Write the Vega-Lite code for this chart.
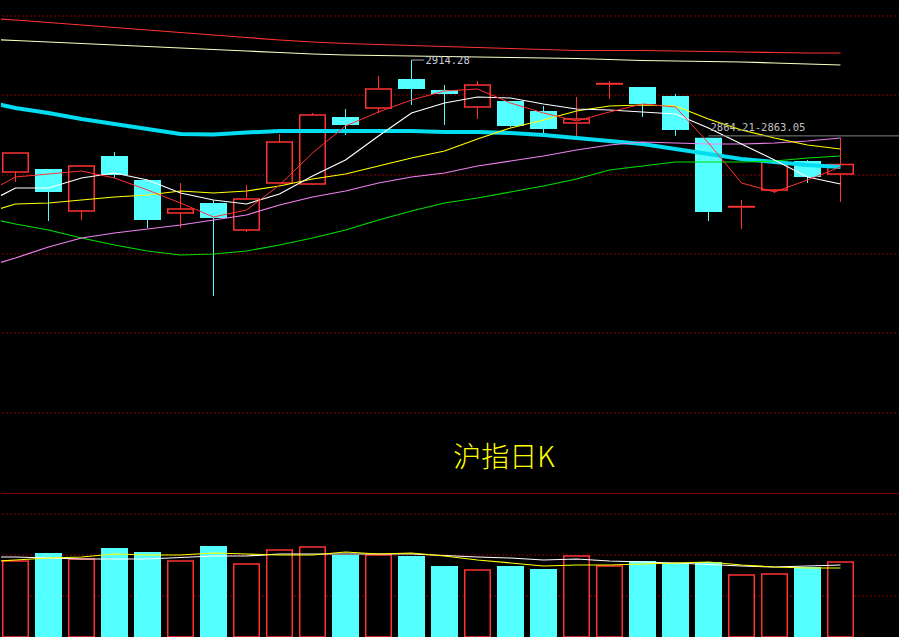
{
  "$schema": "https://vega.github.io/schema/vega-lite/v6.json",
  "background": "#000000",
  "padding": 0,
  "spacing": 0,
  "config": {"view": {"stroke": null}, "axis": {"disable": true}, "scale": {"continuousPadding": 0}},
  "datasets": {
    "candles": [
      {"day": 1, "open": 2840.38, "high": 2852.92, "low": 2833.78, "close": 2852.92, "vol": 1854},
      {"day": 2, "open": 2842.36, "high": 2842.36, "low": 2808.04, "close": 2827.18, "vol": 2049},
      {"day": 3, "open": 2814.64, "high": 2844.34, "low": 2808.70, "close": 2844.34, "vol": 1902},
      {"day": 4, "open": 2850.94, "high": 2853.58, "low": 2836.42, "close": 2838.40, "vol": 2171},
      {"day": 5, "open": 2835.10, "high": 2835.10, "low": 2803.42, "close": 2808.70, "vol": 2073},
      {"day": 6, "open": 2813.32, "high": 2833.12, "low": 2803.42, "close": 2815.96, "vol": 1854},
      {"day": 7, "open": 2819.92, "high": 2821.90, "low": 2758.54, "close": 2810.02, "vol": 2220},
      {"day": 8, "open": 2802.10, "high": 2831.80, "low": 2800.78, "close": 2822.56, "vol": 1780},
      {"day": 9, "open": 2833.12, "high": 2865.46, "low": 2833.12, "close": 2860.18, "vol": 2122},
      {"day": 10, "open": 2832.46, "high": 2879.32, "low": 2831.80, "close": 2878.00, "vol": 2195},
      {"day": 11, "open": 2876.68, "high": 2881.96, "low": 2864.80, "close": 2871.40, "vol": 2000},
      {"day": 12, "open": 2882.62, "high": 2903.74, "low": 2879.32, "close": 2895.16, "vol": 2000},
      {"day": 13, "open": 2901.76, "high": 2914.28, "low": 2884.60, "close": 2895.16, "vol": 1976},
      {"day": 14, "open": 2894.50, "high": 2897.80, "low": 2871.40, "close": 2891.86, "vol": 1732},
      {"day": 15, "open": 2883.28, "high": 2900.44, "low": 2875.36, "close": 2897.80, "vol": 1634},
      {"day": 16, "open": 2887.24, "high": 2887.24, "low": 2870.08, "close": 2870.74, "vol": 1732},
      {"day": 17, "open": 2880.64, "high": 2883.94, "low": 2864.80, "close": 2868.76, "vol": 1659},
      {"day": 18, "open": 2872.72, "high": 2889.88, "low": 2862.82, "close": 2875.36, "vol": 1976},
      {"day": 19, "open": 2898.46, "high": 2900.44, "low": 2888.56, "close": 2898.76, "vol": 1732},
      {"day": 20, "open": 2896.48, "high": 2896.48, "low": 2876.68, "close": 2885.26, "vol": 1854},
      {"day": 21, "open": 2890.54, "high": 2891.86, "low": 2864.21, "close": 2868.10, "vol": 1805},
      {"day": 22, "open": 2863.05, "high": 2863.05, "low": 2808.04, "close": 2813.98, "vol": 1829},
      {"day": 23, "open": 2817.28, "high": 2821.90, "low": 2802.76, "close": 2817.58, "vol": 1512},
      {"day": 24, "open": 2828.50, "high": 2846.98, "low": 2826.52, "close": 2846.98, "vol": 1537},
      {"day": 25, "open": 2847.64, "high": 2848.30, "low": 2833.12, "close": 2837.08, "vol": 1707},
      {"day": 26, "open": 2839.06, "high": 2862.82, "low": 2820.58, "close": 2845.32, "vol": 1829}
    ],
    "ma": [
      {"day": 0, "ma5": 2825.20, "ma10": 2818.60, "ma20": 2812.66, "ma30": 2777.02, "ma60": 2810.68, "ma120": 2887.24, "ma250": 2942.02, "ma200": 2928.16, "vma5": 1951, "vma10": 1829},
      {"day": 1, "ma5": 2837.08, "ma10": 2829.82, "ma20": 2819.26, "ma30": 2783.62, "ma60": 2806.06, "ma120": 2882.62, "ma250": 2940.70, "ma200": 2927.17, "vma5": 1951, "vma10": 1878},
      {"day": 2, "ma5": 2839.06, "ma10": 2829.82, "ma20": 2819.92, "ma30": 2790.88, "ma60": 2802.10, "ma120": 2879.32, "ma250": 2939.05, "ma200": 2926.18, "vma5": 1927, "vma10": 1927},
      {"day": 3, "ma5": 2841.04, "ma10": 2836.42, "ma20": 2821.90, "ma30": 2796.82, "ma60": 2796.82, "ma120": 2875.36, "ma250": 2937.40, "ma200": 2925.19, "vma5": 1902, "vma10": 1951},
      {"day": 4, "ma5": 2836.42, "ma10": 2839.72, "ma20": 2823.88, "ma30": 2800.12, "ma60": 2792.20, "ma120": 2872.06, "ma250": 2935.75, "ma200": 2924.20, "vma5": 1902, "vma10": 2024},
      {"day": 5, "ma5": 2828.50, "ma10": 2835.10, "ma20": 2825.20, "ma30": 2802.76, "ma60": 2788.24, "ma120": 2868.76, "ma250": 2934.10, "ma200": 2923.21, "vma5": 1902, "vma10": 2000},
      {"day": 6, "ma5": 2819.92, "ma10": 2826.52, "ma20": 2827.84, "ma30": 2805.40, "ma60": 2785.60, "ma120": 2865.46, "ma250": 2932.45, "ma200": 2922.22, "vma5": 1939, "vma10": 2000},
      {"day": 7, "ma5": 2810.68, "ma10": 2821.90, "ma20": 2826.52, "ma30": 2808.70, "ma60": 2786.26, "ma120": 2865.13, "ma250": 2930.80, "ma200": 2921.23, "vma5": 1976, "vma10": 2049},
      {"day": 8, "ma5": 2815.30, "ma10": 2819.26, "ma20": 2827.84, "ma30": 2812.00, "ma60": 2788.24, "ma120": 2866.45, "ma250": 2929.15, "ma200": 2920.24, "vma5": 1976, "vma10": 2024},
      {"day": 9, "ma5": 2831.80, "ma10": 2825.86, "ma20": 2831.14, "ma30": 2818.60, "ma60": 2792.20, "ma120": 2867.44, "ma250": 2927.50, "ma200": 2919.25, "vma5": 2024, "vma10": 2000},
      {"day": 10, "ma5": 2852.92, "ma10": 2837.74, "ma20": 2835.76, "ma30": 2823.88, "ma60": 2796.82, "ma120": 2867.44, "ma250": 2926.18, "ma200": 2918.26, "vma5": 2024, "vma10": 2000},
      {"day": 11, "ma5": 2870.74, "ma10": 2848.30, "ma20": 2839.06, "ma30": 2827.84, "ma60": 2802.10, "ma120": 2867.44, "ma250": 2925.19, "ma200": 2917.60, "vma5": 2024, "vma10": 2073},
      {"day": 12, "ma5": 2879.98, "ma10": 2864.14, "ma20": 2844.34, "ma30": 2833.12, "ma60": 2808.70, "ma120": 2867.44, "ma250": 2924.53, "ma200": 2917.27, "vma5": 2024, "vma10": 2024},
      {"day": 13, "ma5": 2887.90, "ma10": 2879.32, "ma20": 2849.62, "ma30": 2837.08, "ma60": 2814.64, "ma120": 2867.44, "ma250": 2923.87, "ma200": 2916.94, "vma5": 2024, "vma10": 2049},
      {"day": 14, "ma5": 2893.84, "ma10": 2885.92, "ma20": 2854.24, "ma30": 2839.72, "ma60": 2819.92, "ma120": 2866.78, "ma250": 2923.21, "ma200": 2916.61, "vma5": 1988, "vma10": 1976},
      {"day": 15, "ma5": 2895.16, "ma10": 2889.88, "ma20": 2862.16, "ma30": 2844.34, "ma60": 2823.22, "ma120": 2866.78, "ma250": 2922.55, "ma200": 2916.28, "vma5": 1951, "vma10": 1878},
      {"day": 16, "ma5": 2885.92, "ma10": 2889.22, "ma20": 2869.42, "ma30": 2847.64, "ma60": 2827.18, "ma120": 2866.12, "ma250": 2921.89, "ma200": 2915.95, "vma5": 1927, "vma10": 1805},
      {"day": 17, "ma5": 2879.32, "ma10": 2885.26, "ma20": 2874.70, "ma30": 2850.94, "ma60": 2831.14, "ma120": 2864.80, "ma250": 2921.23, "ma200": 2915.62, "vma5": 1878, "vma10": 1732},
      {"day": 18, "ma5": 2874.04, "ma10": 2881.96, "ma20": 2880.64, "ma30": 2854.90, "ma60": 2835.76, "ma120": 2862.82, "ma250": 2920.57, "ma200": 2915.29, "vma5": 1902, "vma10": 1756},
      {"day": 19, "ma5": 2879.98, "ma10": 2881.30, "ma20": 2883.94, "ma30": 2858.20, "ma60": 2841.70, "ma120": 2860.84, "ma250": 2920.57, "ma200": 2914.63, "vma5": 1854, "vma10": 1756},
      {"day": 20, "ma5": 2885.26, "ma10": 2879.98, "ma20": 2884.60, "ma30": 2860.18, "ma60": 2844.34, "ma120": 2858.86, "ma250": 2920.57, "ma200": 2913.97, "vma5": 1829, "vma10": 1780},
      {"day": 21, "ma5": 2883.28, "ma10": 2878.66, "ma20": 2883.94, "ma30": 2859.52, "ma60": 2846.98, "ma120": 2855.56, "ma250": 2920.24, "ma200": 2913.64, "vma5": 1805, "vma10": 1805},
      {"day": 22, "ma5": 2859.52, "ma10": 2869.42, "ma20": 2875.36, "ma30": 2858.86, "ma60": 2846.98, "ma120": 2852.26, "ma250": 2919.91, "ma200": 2913.31, "vma5": 1768, "vma10": 1829},
      {"day": 23, "ma5": 2833.12, "ma10": 2858.86, "ma20": 2868.10, "ma30": 2858.86, "ma60": 2846.98, "ma120": 2848.96, "ma250": 2919.58, "ma200": 2912.98, "vma5": 1732, "vma10": 1756},
      {"day": 24, "ma5": 2827.18, "ma10": 2848.30, "ma20": 2862.82, "ma30": 2859.52, "ma60": 2847.64, "ma120": 2846.98, "ma250": 2919.25, "ma200": 2912.32, "vma5": 1707, "vma10": 1707},
      {"day": 25, "ma5": 2835.10, "ma10": 2837.08, "ma20": 2858.20, "ma30": 2860.84, "ma60": 2849.62, "ma120": 2845.00, "ma250": 2918.92, "ma200": 2911.66, "vma5": 1732, "vma10": 1683},
      {"day": 26, "ma5": 2843.68, "ma10": 2832.46, "ma20": 2855.56, "ma30": 2862.82, "ma60": 2850.94, "ma120": 2843.68, "ma250": 2918.92, "ma200": 2911.00, "vma5": 1756, "vma10": 1683}
    ],
    "grid": [{"p": 2943.34}, {"p": 2891.20}, {"p": 2838.40}, {"p": 2786.26}, {"p": 2734.12}, {"p": 2681.32}],
    "vgrid": [{"v": 1000}, {"v": 2000}, {"v": 3000}],
    "notes": [
      {"label": "2914.28", "day": 13, "price": 2914.28},
      {"label": "2864.21-2863.05", "day": 22, "price": 2864.21}
    ],
    "caption": [{"label": "沪指日K"}]
  },
  "vconcat": [
    {
      "width": 899,
      "height": 493,
      "layer": [
        {
          "data": {"name": "grid"},
          "mark": {"type": "rule", "color": "#8B0000", "strokeWidth": 1, "strokeDash": [2, 2]},
          "encoding": {"y": {"field": "p", "type": "quantitative", "scale": {"domain": [2628.5, 2953.9], "nice": false, "zero": false}}}
        },
        {
          "data": {"name": "candles"},
          "transform": [{"filter": "datum.close < datum.open"}],
          "mark": {"type": "rule", "color": "#54FFFF", "strokeWidth": 1},
          "encoding": {
            "x": {"field": "day", "type": "quantitative", "scale": {"domain": [0.56061, 27.80303], "nice": false, "zero": false, "padding": 0}},
            "y": {"field": "low", "type": "quantitative"}, "y2": {"field": "high"}}
        },
        {
          "data": {"name": "candles"},
          "transform": [{"filter": "datum.close >= datum.open"}],
          "mark": {"type": "rule", "color": "#FF3232", "strokeWidth": 1},
          "encoding": {"x": {"field": "day", "type": "quantitative"}, "y": {"field": "low", "type": "quantitative"}, "y2": {"field": "high"}}
        },
        {
          "data": {"name": "candles"},
          "transform": [{"filter": "datum.close < datum.open"}],
          "mark": {"type": "bar", "size": 27, "fill": "#54FFFF"},
          "encoding": {"x": {"field": "day", "type": "quantitative"}, "y": {"field": "open", "type": "quantitative"}, "y2": {"field": "close"}}
        },
        {
          "data": {"name": "candles"},
          "transform": [{"filter": "datum.close >= datum.open"}],
          "mark": {"type": "bar", "size": 25.5, "fill": "#000000", "stroke": "#FF3232", "strokeWidth": 1.5},
          "encoding": {"x": {"field": "day", "type": "quantitative"}, "y": {"field": "open", "type": "quantitative"}, "y2": {"field": "close"}}
        },
        {"data": {"name": "ma"}, "mark": {"type": "line", "clip": true, "color": "#FF3232", "strokeWidth": 1.2}, "encoding": {"x": {"field": "day", "type": "quantitative"}, "y": {"field": "ma250", "type": "quantitative"}}},
        {"data": {"name": "ma"}, "mark": {"type": "line", "clip": true, "color": "#FFFFC0", "strokeWidth": 1.2}, "encoding": {"x": {"field": "day", "type": "quantitative"}, "y": {"field": "ma200", "type": "quantitative"}}},
        {"data": {"name": "ma"}, "mark": {"type": "line", "clip": true, "color": "#00DCF0", "strokeWidth": 4}, "encoding": {"x": {"field": "day", "type": "quantitative"}, "y": {"field": "ma120", "type": "quantitative"}}},
        {"data": {"name": "ma"}, "mark": {"type": "line", "clip": true, "color": "#00E000", "strokeWidth": 1.2}, "encoding": {"x": {"field": "day", "type": "quantitative"}, "y": {"field": "ma60", "type": "quantitative"}}},
        {"data": {"name": "ma"}, "mark": {"type": "line", "clip": true, "color": "#F080F0", "strokeWidth": 1.2}, "encoding": {"x": {"field": "day", "type": "quantitative"}, "y": {"field": "ma30", "type": "quantitative"}}},
        {"data": {"name": "ma"}, "mark": {"type": "line", "clip": true, "color": "#FFFF00", "strokeWidth": 1.2}, "encoding": {"x": {"field": "day", "type": "quantitative"}, "y": {"field": "ma20", "type": "quantitative"}}},
        {"data": {"name": "ma"}, "mark": {"type": "line", "clip": true, "color": "#FFFFFF", "strokeWidth": 1.2}, "encoding": {"x": {"field": "day", "type": "quantitative"}, "y": {"field": "ma10", "type": "quantitative"}}},
        {"data": {"name": "ma"}, "mark": {"type": "line", "clip": true, "color": "#FF3232", "strokeWidth": 1}, "encoding": {"x": {"field": "day", "type": "quantitative"}, "y": {"field": "ma5", "type": "quantitative"}}},
        {
          "data": {"name": "notes"},
          "transform": [{"filter": "datum.day == 22"}],
          "mark": {"type": "rule", "color": "#808080", "strokeWidth": 1},
          "encoding": {"x": {"field": "day", "type": "quantitative"}, "y": {"field": "price", "type": "quantitative"}, "x2": {"datum": 27.80303}}
        },
        {
          "data": {"name": "notes"},
          "transform": [{"filter": "datum.day == 13"}],
          "mark": {"type": "rule", "color": "#A0A8B8", "strokeWidth": 1},
          "encoding": {"x": {"field": "day", "type": "quantitative"}, "y": {"field": "price", "type": "quantitative"}, "x2": {"datum": 13.39}}
        },
        {
          "data": {"name": "notes"},
          "transform": [{"filter": "datum.day == 13"}],
          "mark": {"type": "text", "align": "left", "baseline": "middle", "dx": 14, "dy": 1, "font": "DejaVu Sans Mono", "fontSize": 10.5, "color": "#C4CCDA"},
          "encoding": {"x": {"field": "day", "type": "quantitative"}, "y": {"field": "price", "type": "quantitative"}, "text": {"field": "label"}}
        },
        {
          "data": {"name": "notes"},
          "transform": [{"filter": "datum.day == 22"}],
          "mark": {"type": "text", "align": "left", "baseline": "alphabetic", "dx": 2, "dy": -5, "font": "DejaVu Sans Mono", "fontSize": 10.5, "color": "#C0C0C0"},
          "encoding": {"x": {"field": "day", "type": "quantitative"}, "y": {"field": "price", "type": "quantitative"}, "text": {"field": "label"}}
        },
        {
          "data": {"name": "caption"},
          "mark": {"type": "text", "align": "center", "baseline": "middle", "font": "Noto Sans CJK SC", "fontSize": 28, "fontWeight": 300, "color": "#FFFF00"},
          "encoding": {"x": {"datum": 15.80}, "y": {"datum": 2650.8}, "text": {"field": "label"}}
        }
      ]
    },
    {
      "width": 899,
      "height": 144,
      "layer": [
        {
          "data": {"name": "vgrid"},
          "mark": {"type": "rule", "color": "#8B0000", "strokeWidth": 1, "strokeDash": [2, 2]},
          "encoding": {"y": {"field": "v", "type": "quantitative", "scale": {"domain": [0, 3512.2], "nice": false, "zero": true}}}
        },
        {
          "data": {"name": "vgrid"},
          "transform": [{"filter": "datum.v == 3000"}],
          "mark": {"type": "rule", "color": "#800000", "strokeWidth": 1},
          "encoding": {"y": {"datum": 3500}}
        },
        {
          "data": {"name": "candles"},
          "transform": [{"filter": "datum.close < datum.open"}],
          "mark": {"type": "bar", "size": 27, "fill": "#54FFFF", "clip": true},
          "encoding": {
            "x": {"field": "day", "type": "quantitative", "scale": {"domain": [0.56061, 27.80303], "nice": false, "zero": false, "padding": 0}},
            "y": {"field": "vol", "type": "quantitative"}}
        },
        {
          "data": {"name": "candles"},
          "transform": [{"filter": "datum.close >= datum.open"}],
          "mark": {"type": "bar", "size": 25.5, "fill": "#000000", "stroke": "#FF3232", "strokeWidth": 1.5, "clip": true},
          "encoding": {"x": {"field": "day", "type": "quantitative"}, "y": {"field": "vol", "type": "quantitative"}}
        },
        {"data": {"name": "ma"}, "mark": {"type": "line", "clip": true, "color": "#FFFFFF", "strokeWidth": 1.2}, "encoding": {"x": {"field": "day", "type": "quantitative"}, "y": {"field": "vma5", "type": "quantitative"}}},
        {"data": {"name": "ma"}, "mark": {"type": "line", "clip": true, "color": "#FFFF00", "strokeWidth": 1.2}, "encoding": {"x": {"field": "day", "type": "quantitative"}, "y": {"field": "vma10", "type": "quantitative"}}}
      ]
    }
  ]
}
